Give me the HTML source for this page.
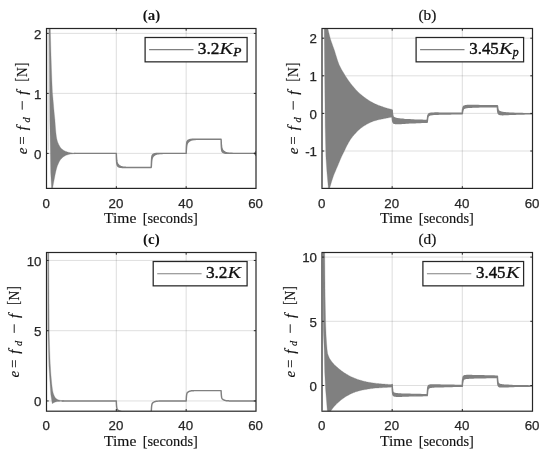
<!DOCTYPE html>
<html><head><meta charset="utf-8"><title>Force error plots</title>
<style>
html,body{margin:0;padding:0;background:#fff;}
svg{display:block;}
.tk{font-family:"Liberation Sans",Arial,sans-serif;font-size:13.3px;fill:#262626;stroke:#262626;stroke-width:0.25px;}
.ttl{font-family:"Liberation Serif","Times New Roman",serif;font-size:15.3px;fill:#111;stroke:#111;stroke-width:0.2px;}
.b{font-weight:bold;font-size:15px;stroke-width:0;}
.lab{font-family:"Liberation Serif","Times New Roman",serif;font-size:15px;fill:#111;stroke:#111;stroke-width:0.15px;}
.subl{font-size:10.5px;}
.br{font-size:17px;}
.leg{font-family:"Liberation Serif","Times New Roman",serif;font-size:17.7px;fill:#111;stroke:#111;stroke-width:0.45px;}
.legs{font-family:"Liberation Serif","Times New Roman",serif;font-size:11.8px;fill:#111;stroke:#111;stroke-width:0.35px;}
.it{font-style:italic;}
.kk{stroke-width:0.15px;}
</style></head><body>
<svg width="550" height="459" viewBox="0 0 550 459">
<rect width="550" height="459" fill="#fff"/>
<clipPath id="clip0"><rect x="46.50" y="28.50" width="209.50" height="159.90"/></clipPath>
<line x1="116.33" y1="28.50" x2="116.33" y2="188.40" stroke="#262626" stroke-opacity="0.14" stroke-width="1.1"/>
<line x1="186.17" y1="28.50" x2="186.17" y2="188.40" stroke="#262626" stroke-opacity="0.14" stroke-width="1.1"/>
<line x1="46.50" y1="153.40" x2="256.00" y2="153.40" stroke="#262626" stroke-opacity="0.15" stroke-width="1"/>
<line x1="46.50" y1="93.40" x2="256.00" y2="93.40" stroke="#262626" stroke-opacity="0.15" stroke-width="1"/>
<line x1="46.50" y1="33.40" x2="256.00" y2="33.40" stroke="#262626" stroke-opacity="0.15" stroke-width="1"/>
<g clip-path="url(#clip0)"><polygon fill="#808080" stroke="#808080" stroke-width="0.30" stroke-linejoin="round" points="49.9,0.0 50.4,32.5 50.9,51.4 51.4,67.5 51.9,81.1 52.4,92.6 52.9,97.9 53.4,103.7 53.9,109.7 54.4,115.0 54.9,119.7 55.4,126.9 55.9,132.7 56.4,136.7 56.8,139.0 57.3,140.9 57.8,142.5 58.3,143.6 58.8,144.7 59.3,145.6 59.8,146.4 60.3,147.2 60.8,147.9 61.3,148.4 61.8,148.9 62.3,149.3 62.8,149.7 63.3,150.1 63.8,150.4 64.3,150.7 64.8,150.9 65.3,151.2 65.8,151.4 66.3,151.6 66.8,151.8 67.3,151.9 67.8,152.1 68.3,152.2 68.8,152.4 69.2,152.5 69.7,152.6 70.2,152.7 70.7,152.8 71.2,152.8 71.7,152.9 72.2,152.9 72.7,153.0 73.2,153.0 73.7,153.1 74.2,153.1 74.7,153.1 75.2,153.2 75.7,153.2 75.7,153.6 75.2,153.6 74.7,153.7 74.2,153.7 73.7,153.7 73.2,153.8 72.7,153.8 72.2,153.9 71.7,153.9 71.2,154.0 70.7,154.1 70.2,154.1 69.6,154.2 69.1,154.3 68.6,154.5 68.1,154.6 67.6,154.8 67.1,154.9 66.6,155.1 66.1,155.3 65.6,155.5 65.1,155.8 64.6,156.1 64.1,156.4 63.6,156.7 63.1,157.1 62.6,157.5 62.1,157.9 61.6,158.4 61.1,158.9 60.6,159.5 60.1,160.2 59.6,161.0 59.1,161.9 58.6,163.0 58.1,164.2 57.5,165.5 57.0,167.0 56.5,168.7 56.0,170.7 55.5,172.9 55.0,175.3 54.5,178.0 54.0,180.5 53.5,183.1 53.0,185.9 52.5,188.8 52.0,192.0 51.8,192.0 51.6,188.4 50.7,172.6 50.1,136.0 49.8,120.0 49.6,93.0 49.4,66.0 49.0,28.5 48.9,0.0"/>
<polygon fill="#808080" stroke="#808080" stroke-width="1.40" stroke-linejoin="round" points="74.4,153.4 76.2,153.4 77.9,153.4 79.7,153.4 81.4,153.4 83.2,153.4 84.9,153.4 86.7,153.4 88.4,153.4 90.1,153.4 91.9,153.4 93.6,153.4 95.4,153.4 97.1,153.4 98.9,153.4 100.6,153.4 102.4,153.4 104.1,153.4 105.9,153.4 107.6,153.4 109.3,153.4 111.1,153.4 112.8,153.4 114.6,153.4 116.3,153.4 116.4,154.7 116.5,157.0 116.6,158.6 116.7,159.8 116.9,160.7 117.0,161.4 117.1,161.9 117.2,162.3 117.3,162.7 117.4,163.0 117.5,163.2 117.6,163.5 117.7,163.7 117.8,163.9 117.9,164.0 118.0,164.2 118.1,164.3 118.2,164.5 118.3,164.6 118.4,164.8 118.5,164.9 118.9,165.2 119.2,165.5 119.6,165.8 119.9,166.0 120.3,166.2 120.6,166.4 121.0,166.6 121.3,166.7 121.7,166.8 122.0,166.9 122.4,167.0 122.7,167.0 123.1,167.1 123.4,167.1 123.8,167.2 124.1,167.2 124.5,167.3 124.8,167.3 125.2,167.3 125.5,167.3 125.9,167.4 126.2,167.4 126.6,167.4 126.9,167.4 128.7,167.5 130.4,167.5 132.1,167.5 133.9,167.5 135.6,167.5 137.4,167.5 139.1,167.5 140.9,167.5 142.6,167.5 144.4,167.5 146.1,167.5 147.9,167.5 149.6,167.5 151.2,167.5 151.4,162.7 151.5,160.6 151.6,159.0 151.7,157.9 151.8,157.1 151.9,156.6 152.0,156.1 152.1,155.8 152.2,155.5 152.3,155.3 152.4,155.2 152.5,155.0 152.6,154.9 152.7,154.8 152.8,154.7 152.9,154.6 153.0,154.5 153.1,154.4 153.2,154.4 153.3,154.3 153.4,154.2 153.8,154.1 154.1,153.9 154.5,153.8 154.8,153.7 155.2,153.6 155.5,153.6 155.9,153.5 156.2,153.5 156.6,153.5 156.9,153.4 157.3,153.4 157.6,153.4 158.0,153.4 158.3,153.4 158.7,153.4 159.0,153.4 159.4,153.4 159.7,153.4 160.1,153.4 160.4,153.4 160.8,153.4 161.1,153.4 161.5,153.4 161.8,153.4 163.6,153.4 165.3,153.4 167.1,153.4 168.8,153.4 170.6,153.4 172.3,153.4 174.0,153.4 175.8,153.4 177.5,153.4 179.3,153.4 181.0,153.4 182.8,153.4 184.5,153.4 186.2,153.4 186.3,148.6 186.4,146.5 186.5,144.9 186.6,143.8 186.7,143.0 186.8,142.5 186.9,142.0 187.0,141.7 187.1,141.4 187.2,141.2 187.3,141.1 187.4,140.9 187.5,140.8 187.6,140.7 187.7,140.6 187.8,140.5 187.9,140.4 188.0,140.3 188.2,140.3 188.3,140.2 188.4,140.1 188.7,140.0 189.1,139.8 189.4,139.7 189.8,139.6 190.1,139.5 190.5,139.5 190.8,139.4 191.2,139.4 191.5,139.4 191.9,139.3 192.2,139.3 192.6,139.3 192.9,139.3 193.3,139.3 193.6,139.3 193.9,139.3 194.3,139.3 194.6,139.3 195.0,139.3 195.3,139.3 195.7,139.3 196.0,139.3 196.4,139.3 196.7,139.3 198.5,139.3 200.2,139.3 202.0,139.3 203.7,139.3 205.5,139.3 207.2,139.3 209.0,139.3 210.7,139.3 212.5,139.3 214.2,139.3 215.9,139.3 217.7,139.3 219.4,139.3 221.1,139.3 221.2,140.6 221.3,142.9 221.4,144.5 221.5,145.7 221.6,146.6 221.7,147.3 221.8,147.8 221.9,148.2 222.0,148.6 222.1,148.9 222.2,149.1 222.3,149.4 222.4,149.6 222.5,149.8 222.7,149.9 222.8,150.1 222.9,150.2 223.0,150.4 223.1,150.5 223.2,150.7 223.3,150.8 223.6,151.1 224.0,151.4 224.3,151.7 224.7,151.9 225.0,152.1 225.4,152.3 225.7,152.5 226.1,152.6 226.4,152.7 226.8,152.8 227.1,152.9 227.5,152.9 227.8,153.0 228.2,153.0 228.5,153.1 228.9,153.1 229.2,153.2 229.6,153.2 229.9,153.2 230.3,153.2 230.6,153.3 231.0,153.3 231.3,153.3 231.7,153.3 233.4,153.4 235.2,153.4 236.9,153.4 238.6,153.4 240.4,153.4 242.1,153.4 243.9,153.4 245.6,153.4 247.4,153.4 249.1,153.4 250.9,153.4 252.6,153.4 254.4,153.4 256.0,151.6 256.0,155.2 254.4,153.4 252.6,153.4 250.9,153.4 249.1,153.4 247.4,153.4 245.6,153.4 243.9,153.4 242.1,153.4 240.4,153.4 238.6,153.4 236.9,153.4 235.2,153.4 233.4,153.4 231.7,153.4 231.3,153.4 231.0,153.4 230.6,153.4 230.3,153.4 229.9,153.4 229.6,153.4 229.2,153.4 228.9,153.4 228.5,153.4 228.2,153.4 227.8,153.4 227.5,153.4 227.1,153.4 226.8,153.4 226.4,153.3 226.1,153.3 225.7,153.3 225.4,153.2 225.0,153.2 224.7,153.1 224.3,153.0 224.0,152.9 223.6,152.7 223.3,152.6 223.2,152.5 223.1,152.4 223.0,152.4 222.9,152.3 222.8,152.2 222.7,152.1 222.5,152.0 222.4,151.9 222.3,151.8 222.2,151.6 222.1,151.5 222.0,151.3 221.9,151.0 221.8,150.7 221.7,150.2 221.6,149.7 221.5,148.9 221.4,147.8 221.3,146.2 221.2,144.1 221.1,139.3 219.4,139.3 217.7,139.3 215.9,139.3 214.2,139.3 212.5,139.3 210.7,139.3 209.0,139.3 207.2,139.3 205.5,139.3 203.7,139.3 202.0,139.3 200.2,139.3 198.5,139.3 196.7,139.4 196.4,139.4 196.0,139.4 195.7,139.4 195.3,139.5 195.0,139.5 194.6,139.5 194.3,139.5 193.9,139.6 193.6,139.6 193.3,139.7 192.9,139.7 192.6,139.8 192.2,139.8 191.9,139.9 191.5,140.0 191.2,140.1 190.8,140.2 190.5,140.4 190.1,140.6 189.8,140.8 189.4,141.0 189.1,141.3 188.7,141.6 188.4,141.9 188.3,142.0 188.2,142.2 188.0,142.3 187.9,142.5 187.8,142.6 187.7,142.8 187.6,142.9 187.5,143.1 187.4,143.3 187.3,143.6 187.2,143.8 187.1,144.1 187.0,144.5 186.9,144.9 186.8,145.4 186.7,146.1 186.6,147.0 186.5,148.2 186.4,149.8 186.3,152.1 186.2,153.4 184.5,153.4 182.8,153.4 181.0,153.4 179.3,153.4 177.5,153.4 175.8,153.4 174.0,153.4 172.3,153.4 170.6,153.4 168.8,153.4 167.1,153.4 165.3,153.4 163.6,153.4 161.8,153.5 161.5,153.5 161.1,153.5 160.8,153.5 160.4,153.6 160.1,153.6 159.7,153.6 159.4,153.6 159.0,153.7 158.7,153.7 158.3,153.8 158.0,153.8 157.6,153.9 157.3,153.9 156.9,154.0 156.6,154.1 156.2,154.2 155.9,154.3 155.5,154.5 155.2,154.7 154.8,154.9 154.5,155.1 154.1,155.4 153.8,155.7 153.4,156.0 153.3,156.1 153.2,156.3 153.1,156.4 153.0,156.6 152.9,156.7 152.8,156.9 152.7,157.0 152.6,157.2 152.5,157.4 152.4,157.7 152.3,157.9 152.2,158.2 152.1,158.6 152.0,159.0 151.9,159.5 151.8,160.2 151.7,161.1 151.6,162.3 151.5,163.9 151.4,166.2 151.2,167.5 149.6,167.5 147.9,167.5 146.1,167.5 144.4,167.5 142.6,167.5 140.9,167.5 139.1,167.5 137.4,167.5 135.6,167.5 133.9,167.5 132.1,167.5 130.4,167.5 128.7,167.5 126.9,167.5 126.6,167.5 126.2,167.5 125.9,167.5 125.5,167.5 125.2,167.5 124.8,167.5 124.5,167.5 124.1,167.5 123.8,167.5 123.4,167.5 123.1,167.5 122.7,167.5 122.4,167.5 122.0,167.5 121.7,167.4 121.3,167.4 121.0,167.4 120.6,167.3 120.3,167.3 119.9,167.2 119.6,167.1 119.2,167.0 118.9,166.8 118.5,166.7 118.4,166.6 118.3,166.5 118.2,166.5 118.1,166.4 118.0,166.3 117.9,166.2 117.8,166.1 117.7,166.0 117.6,165.9 117.5,165.7 117.4,165.6 117.3,165.4 117.2,165.1 117.1,164.8 117.0,164.3 116.9,163.8 116.7,163.0 116.6,161.9 116.5,160.3 116.4,158.2 116.3,153.4 114.6,153.4 112.8,153.4 111.1,153.4 109.3,153.4 107.6,153.4 105.9,153.4 104.1,153.4 102.4,153.4 100.6,153.4 98.9,153.4 97.1,153.4 95.4,153.4 93.6,153.4 91.9,153.4 90.1,153.4 88.4,153.4 86.7,153.4 84.9,153.4 83.2,153.4 81.4,153.4 79.7,153.4 77.9,153.4 76.2,153.4 74.4,153.4"/>
<line x1="48.1" y1="28" x2="48.3" y2="150" stroke="#808080" stroke-width="0.7" opacity="0.45"/></g>
<rect x="46.50" y="28.50" width="209.50" height="159.90" fill="none" stroke="#262626" stroke-width="1.2"/>
<text class="tk" x="46.10" y="207.50" text-anchor="middle">0</text>
<line x1="116.33" y1="188.40" x2="116.33" y2="186.20" stroke="#262626" stroke-width="1"/>
<line x1="116.33" y1="28.50" x2="116.33" y2="30.70" stroke="#262626" stroke-width="1"/>
<text class="tk" x="115.93" y="207.50" text-anchor="middle">20</text>
<line x1="186.17" y1="188.40" x2="186.17" y2="186.20" stroke="#262626" stroke-width="1"/>
<line x1="186.17" y1="28.50" x2="186.17" y2="30.70" stroke="#262626" stroke-width="1"/>
<text class="tk" x="185.77" y="207.50" text-anchor="middle">40</text>
<text class="tk" x="255.60" y="207.50" text-anchor="middle">60</text>
<line x1="46.50" y1="153.40" x2="48.70" y2="153.40" stroke="#262626" stroke-width="1"/>
<line x1="256.00" y1="153.40" x2="253.80" y2="153.40" stroke="#262626" stroke-width="1"/>
<text class="tk" x="41.50" y="158.60" text-anchor="end">0</text>
<line x1="46.50" y1="93.40" x2="48.70" y2="93.40" stroke="#262626" stroke-width="1"/>
<line x1="256.00" y1="93.40" x2="253.80" y2="93.40" stroke="#262626" stroke-width="1"/>
<text class="tk" x="41.50" y="98.60" text-anchor="end">1</text>
<line x1="46.50" y1="33.40" x2="48.70" y2="33.40" stroke="#262626" stroke-width="1"/>
<line x1="256.00" y1="33.40" x2="253.80" y2="33.40" stroke="#262626" stroke-width="1"/>
<text class="tk" x="41.50" y="38.60" text-anchor="end">2</text>
<text class="ttl b" x="151.45" y="20.10" text-anchor="middle">(a)</text>
<text class="lab" x="103.95" y="223.30" textLength="32.4" lengthAdjust="spacingAndGlyphs">Time</text>
<text class="lab" x="142.65" y="223.30" textLength="55.2" lengthAdjust="spacingAndGlyphs">[seconds]</text>
<g transform="translate(26.90,109.15) rotate(-90)"><text class="lab it" x="-45.00" y="0">e</text><text class="lab" x="-35.50" y="0">=</text><text class="lab it" x="-21.20" y="0">f</text><text class="lab it subl" x="-13.40" y="2.6">d</text><text class="lab" x="-1.30" y="0" textLength="10" lengthAdjust="spacingAndGlyphs">−</text><text class="lab it" x="14.50" y="0">f</text><text class="lab br" x="27.70" y="0.2" textLength="4" lengthAdjust="spacingAndGlyphs">[</text><text class="lab" x="32.10" y="0" textLength="9.7" lengthAdjust="spacingAndGlyphs">N</text><text class="lab br" x="42.40" y="0.2" textLength="4" lengthAdjust="spacingAndGlyphs">]</text></g>
<rect x="145.10" y="37.50" width="102.00" height="24.35" fill="#fff" stroke="#262626" stroke-width="1.25"/>
<line x1="149.10" y1="49.67" x2="193.50" y2="49.67" stroke="#808080" stroke-width="1.1"/>
<text class="leg" x="197.80" y="53.50" textLength="21.6" lengthAdjust="spacingAndGlyphs">3.2</text>
<text class="leg it kk" x="219.40" y="53.50" textLength="13.6" lengthAdjust="spacingAndGlyphs">K</text>
<text class="legs it" x="233.20" y="55.70" textLength="8.2" lengthAdjust="spacingAndGlyphs">P</text>
<clipPath id="clip1"><rect x="322.00" y="28.50" width="210.50" height="159.90"/></clipPath>
<line x1="392.17" y1="28.50" x2="392.17" y2="188.40" stroke="#262626" stroke-opacity="0.14" stroke-width="1.1"/>
<line x1="462.33" y1="28.50" x2="462.33" y2="188.40" stroke="#262626" stroke-opacity="0.14" stroke-width="1.1"/>
<line x1="322.00" y1="151.00" x2="532.50" y2="151.00" stroke="#262626" stroke-opacity="0.15" stroke-width="1"/>
<line x1="322.00" y1="113.40" x2="532.50" y2="113.40" stroke="#262626" stroke-opacity="0.15" stroke-width="1"/>
<line x1="322.00" y1="75.80" x2="532.50" y2="75.80" stroke="#262626" stroke-opacity="0.15" stroke-width="1"/>
<line x1="322.00" y1="38.20" x2="532.50" y2="38.20" stroke="#262626" stroke-opacity="0.15" stroke-width="1"/>
<g clip-path="url(#clip1)"><polygon fill="#808080" stroke="#808080" stroke-width="0.30" stroke-linejoin="round" points="326.5,-0.0 327.0,11.9 327.5,22.6 328.0,29.3 328.5,31.4 329.0,33.5 329.5,35.5 330.0,37.5 330.5,39.2 331.0,40.7 331.5,42.2 332.0,43.6 332.5,45.0 333.0,46.4 333.5,47.8 334.0,49.2 334.5,50.5 335.0,52.2 335.5,53.9 336.0,55.5 336.5,57.1 337.0,58.7 337.5,60.2 338.0,61.7 338.5,63.1 339.0,64.5 339.5,65.5 340.0,66.5 340.5,67.5 341.0,68.4 341.5,69.4 342.0,70.3 342.5,71.2 343.1,72.0 343.6,72.9 344.1,73.7 344.6,74.6 345.1,75.4 345.6,76.2 346.1,77.0 346.6,77.7 347.1,78.5 347.6,79.2 348.1,80.0 348.6,80.7 349.1,81.4 349.6,82.1 350.1,82.7 350.6,83.4 351.1,84.0 351.6,84.7 352.1,85.3 352.6,85.9 353.1,86.5 353.6,87.1 354.1,87.7 354.6,88.3 355.1,88.8 355.6,89.4 356.1,89.9 356.6,90.4 357.1,91.0 357.6,91.5 358.1,91.9 358.6,92.4 359.1,92.9 359.6,93.4 360.1,93.8 360.6,94.3 361.1,94.7 361.6,95.1 362.1,95.5 362.6,95.9 363.1,96.3 363.6,96.7 364.1,97.1 364.6,97.5 365.1,97.8 365.6,98.2 366.1,98.5 366.6,98.9 367.1,99.2 367.6,99.6 368.1,99.9 368.6,100.2 369.1,100.6 369.6,100.9 370.1,101.2 370.6,101.5 371.1,101.8 371.6,102.1 372.1,102.3 372.6,102.6 373.1,102.9 373.6,103.1 374.1,103.4 374.6,103.6 375.1,103.9 375.6,104.1 376.2,104.3 376.7,104.5 377.2,104.7 377.7,105.0 378.2,105.2 378.7,105.4 379.2,105.6 379.7,105.7 380.2,105.9 380.7,106.1 381.2,106.3 381.7,106.5 382.2,106.6 382.7,106.8 383.2,107.0 383.7,107.2 384.2,107.3 384.7,107.5 385.2,107.7 385.7,107.8 386.2,108.0 386.7,108.1 387.2,108.3 387.7,108.4 388.2,108.5 388.7,108.7 389.2,108.8 389.7,108.9 390.2,109.0 390.7,109.2 391.2,109.3 391.7,109.4 392.2,109.5 392.2,117.1 391.7,117.2 391.2,117.3 390.7,117.3 390.2,117.4 389.7,117.5 389.2,117.6 388.7,117.7 388.2,117.8 387.7,117.9 387.2,118.0 386.7,118.1 386.2,118.2 385.7,118.3 385.2,118.4 384.7,118.5 384.2,118.6 383.7,118.7 383.2,118.8 382.7,118.9 382.2,119.0 381.7,119.1 381.2,119.2 380.7,119.3 380.2,119.4 379.7,119.5 379.2,119.6 378.7,119.7 378.2,119.8 377.7,119.9 377.2,120.1 376.7,120.2 376.2,120.4 375.7,120.5 375.2,120.7 374.7,120.8 374.2,121.0 373.7,121.1 373.2,121.3 372.7,121.5 372.2,121.7 371.7,121.9 371.2,122.1 370.7,122.3 370.2,122.6 369.7,122.8 369.2,123.0 368.7,123.3 368.2,123.5 367.7,123.8 367.2,124.1 366.7,124.3 366.2,124.6 365.7,124.9 365.2,125.2 364.7,125.5 364.2,125.8 363.7,126.1 363.2,126.5 362.7,126.8 362.2,127.2 361.7,127.5 361.2,127.9 360.7,128.3 360.1,128.8 359.6,129.2 359.1,129.7 358.6,130.1 358.1,130.6 357.6,131.1 357.1,131.6 356.6,132.1 356.1,132.7 355.6,133.2 355.1,133.7 354.6,134.3 354.1,134.8 353.6,135.4 353.1,136.0 352.6,136.6 352.1,137.3 351.6,137.9 351.1,138.6 350.6,139.3 350.1,140.1 349.6,140.9 349.1,141.7 348.6,142.6 348.1,143.5 347.6,144.4 347.1,145.3 346.6,146.3 346.1,147.3 345.6,148.3 345.1,149.4 344.6,150.5 344.1,151.5 343.6,152.5 343.1,153.5 342.6,154.5 342.1,155.5 341.6,156.6 341.1,157.7 340.6,158.8 340.1,160.0 339.6,161.2 339.1,162.4 338.6,163.6 338.1,164.9 337.6,166.1 337.1,167.2 336.6,168.3 336.1,169.5 335.6,170.7 335.1,171.9 334.6,173.1 334.1,174.3 333.6,175.6 333.1,177.0 332.6,178.5 332.1,180.0 331.6,181.6 331.1,183.3 330.6,184.9 330.1,186.6 329.6,188.4 329.1,190.2 328.6,192.0 328.6,192.0 328.4,188.4 326.9,171.8 325.9,156.5 325.2,126.0 324.2,28.4 324.0,0.0"/>
<polygon fill="#808080" stroke="#808080" stroke-width="1.40" stroke-linejoin="round" points="392.2,110.4 392.3,111.8 392.4,112.9 392.5,113.8 392.6,114.5 392.7,115.1 392.8,115.6 392.9,115.9 393.0,116.2 393.1,116.5 393.2,116.7 393.3,116.9 393.4,117.0 393.5,117.1 393.6,117.3 393.7,117.4 393.9,117.4 394.0,117.5 394.1,117.6 394.2,117.6 394.3,117.7 394.6,117.9 395.0,118.0 395.3,118.1 395.7,118.3 396.0,118.4 396.4,118.4 396.7,118.5 397.1,118.6 397.4,118.7 397.8,118.7 398.1,118.8 398.5,118.9 398.8,118.9 399.2,118.9 399.5,119.0 399.9,119.0 400.2,119.1 400.6,119.1 400.9,119.2 401.3,119.2 401.6,119.2 402.0,119.3 402.3,119.3 402.7,119.3 404.4,119.5 406.2,119.6 408.0,119.7 409.7,119.8 411.5,119.9 413.2,120.0 415.0,120.1 416.7,120.1 418.5,120.2 420.2,120.3 422.0,120.3 423.7,120.4 425.5,120.5 427.2,120.5 427.4,119.2 427.5,118.1 427.6,117.3 427.7,116.6 427.8,116.0 427.9,115.6 428.0,115.2 428.1,115.0 428.2,114.7 428.3,114.5 428.4,114.4 428.5,114.3 428.6,114.1 428.7,114.1 428.8,114.0 428.9,113.9 429.0,113.8 429.1,113.8 429.2,113.7 429.4,113.7 429.5,113.6 429.8,113.5 430.2,113.4 430.5,113.4 430.9,113.3 431.2,113.3 431.6,113.2 431.9,113.2 432.3,113.1 432.6,113.1 433.0,113.1 433.3,113.1 433.7,113.1 434.0,113.1 434.4,113.1 434.7,113.0 435.1,113.0 435.4,113.0 435.8,113.0 436.1,113.0 436.5,113.0 436.8,113.0 437.2,113.0 437.5,113.0 437.9,113.0 439.6,113.1 441.4,113.1 443.1,113.1 444.9,113.1 446.6,113.2 448.4,113.2 450.2,113.2 451.9,113.2 453.7,113.3 455.4,113.3 457.2,113.3 458.9,113.3 460.7,113.3 462.3,113.4 462.4,111.2 462.5,110.2 462.6,109.4 462.8,108.7 462.9,108.2 463.0,107.8 463.1,107.5 463.2,107.2 463.3,107.0 463.4,106.8 463.5,106.7 463.6,106.5 463.7,106.4 463.8,106.3 463.9,106.3 464.0,106.2 464.1,106.1 464.2,106.1 464.3,106.1 464.4,106.0 464.5,106.0 464.9,105.9 465.2,105.8 465.6,105.7 465.9,105.7 466.3,105.6 466.6,105.6 467.0,105.5 467.3,105.5 467.7,105.5 468.0,105.5 468.4,105.5 468.8,105.5 469.1,105.4 469.5,105.4 469.8,105.4 470.2,105.4 470.5,105.4 470.9,105.4 471.2,105.4 471.6,105.4 471.9,105.4 472.3,105.4 472.6,105.4 473.0,105.4 474.7,105.5 476.5,105.5 478.2,105.5 480.0,105.6 481.7,105.6 483.5,105.6 485.2,105.7 487.0,105.7 488.7,105.7 490.5,105.8 492.3,105.8 494.0,105.8 495.8,105.8 497.4,105.8 497.5,105.9 497.6,106.9 497.7,107.8 497.8,108.5 497.9,109.0 498.0,109.4 498.1,109.8 498.3,110.1 498.4,110.3 498.5,110.5 498.6,110.7 498.7,110.8 498.8,111.0 498.9,111.1 499.0,111.2 499.1,111.2 499.2,111.3 499.3,111.4 499.4,111.5 499.5,111.5 499.6,111.6 500.0,111.7 500.3,111.9 500.7,112.0 501.0,112.1 501.4,112.2 501.7,112.3 502.1,112.3 502.4,112.4 502.8,112.5 503.1,112.5 503.5,112.6 503.8,112.6 504.2,112.7 504.5,112.7 504.9,112.8 505.2,112.8 505.6,112.8 505.9,112.9 506.3,112.9 506.6,112.9 507.0,113.0 507.3,113.0 507.7,113.0 508.0,113.0 509.8,113.1 511.6,113.2 513.3,113.3 515.1,113.4 516.8,113.4 518.6,113.5 520.3,113.5 522.1,113.5 523.8,113.6 525.6,113.6 527.3,113.6 529.1,113.6 530.8,113.7 532.5,113.7 532.5,113.9 530.8,113.9 529.1,113.9 527.3,113.9 525.6,113.9 523.8,114.0 522.1,114.0 520.3,114.0 518.6,114.1 516.8,114.1 515.1,114.2 513.3,114.2 511.6,114.3 509.8,114.4 508.0,114.5 507.7,114.5 507.3,114.5 507.0,114.5 506.6,114.5 506.3,114.5 505.9,114.6 505.6,114.6 505.2,114.6 504.9,114.6 504.5,114.6 504.2,114.6 503.8,114.6 503.5,114.6 503.1,114.7 502.8,114.7 502.4,114.7 502.1,114.7 501.7,114.6 501.4,114.6 501.0,114.6 500.7,114.6 500.3,114.5 500.0,114.5 499.6,114.4 499.5,114.4 499.4,114.3 499.3,114.3 499.2,114.2 499.1,114.2 499.0,114.1 498.9,114.1 498.8,114.0 498.7,113.9 498.6,113.8 498.5,113.6 498.4,113.5 498.3,113.3 498.1,113.0 498.0,112.7 497.9,112.2 497.8,111.7 497.7,111.1 497.6,110.3 497.5,109.2 497.4,106.7 495.8,106.7 494.0,106.7 492.3,106.7 490.5,106.8 488.7,106.8 487.0,106.8 485.2,106.8 483.5,106.9 481.7,106.9 480.0,106.9 478.2,107.0 476.5,107.0 474.7,107.1 473.0,107.1 472.6,107.1 472.3,107.1 471.9,107.2 471.6,107.2 471.2,107.2 470.9,107.2 470.5,107.2 470.2,107.2 469.8,107.3 469.5,107.3 469.1,107.3 468.8,107.3 468.4,107.4 468.0,107.4 467.7,107.4 467.3,107.5 467.0,107.5 466.6,107.6 466.3,107.6 465.9,107.7 465.6,107.8 465.2,107.9 464.9,108.0 464.5,108.1 464.4,108.1 464.3,108.2 464.2,108.2 464.1,108.3 464.0,108.4 463.9,108.4 463.8,108.5 463.7,108.6 463.6,108.7 463.5,108.8 463.4,109.0 463.3,109.2 463.2,109.4 463.1,109.7 463.0,110.0 462.9,110.4 462.8,111.0 462.6,111.6 462.5,112.4 462.4,113.5 462.3,113.8 460.7,113.8 458.9,113.9 457.2,113.9 455.4,113.9 453.7,113.9 451.9,113.9 450.2,114.0 448.4,114.0 446.6,114.0 444.9,114.0 443.1,114.1 441.4,114.1 439.6,114.1 437.9,114.2 437.5,114.2 437.2,114.2 436.8,114.2 436.5,114.2 436.1,114.2 435.8,114.3 435.4,114.3 435.1,114.3 434.7,114.3 434.4,114.3 434.0,114.4 433.7,114.4 433.3,114.4 433.0,114.5 432.6,114.5 432.3,114.5 431.9,114.6 431.6,114.6 431.2,114.7 430.9,114.8 430.5,114.8 430.2,114.9 429.8,115.0 429.5,115.2 429.4,115.2 429.2,115.3 429.1,115.3 429.0,115.4 428.9,115.5 428.8,115.5 428.7,115.6 428.6,115.7 428.5,115.8 428.4,116.0 428.3,116.1 428.2,116.3 428.1,116.6 428.0,116.9 427.9,117.2 427.8,117.7 427.7,118.2 427.6,118.9 427.5,119.8 427.4,120.9 427.2,122.2 425.5,122.3 423.7,122.3 422.0,122.4 420.2,122.5 418.5,122.5 416.7,122.6 415.0,122.7 413.2,122.8 411.5,122.8 409.7,122.9 408.0,123.0 406.2,123.1 404.4,123.3 402.7,123.4 402.3,123.4 402.0,123.4 401.6,123.4 401.3,123.5 400.9,123.5 400.6,123.5 400.2,123.5 399.9,123.5 399.5,123.5 399.2,123.6 398.8,123.6 398.5,123.6 398.1,123.6 397.8,123.6 397.4,123.6 397.1,123.6 396.7,123.6 396.4,123.6 396.0,123.6 395.7,123.5 395.3,123.5 395.0,123.4 394.6,123.4 394.3,123.3 394.2,123.2 394.1,123.2 394.0,123.1 393.9,123.1 393.7,123.0 393.6,122.9 393.5,122.9 393.4,122.7 393.3,122.6 393.2,122.5 393.1,122.3 393.0,122.1 392.9,121.8 392.8,121.4 392.7,121.0 392.6,120.5 392.5,119.8 392.4,118.9 392.3,117.8 392.2,116.4"/>
</g>
<rect x="322.00" y="28.50" width="210.50" height="159.90" fill="none" stroke="#262626" stroke-width="1.2"/>
<line x1="322.10" y1="29.50" x2="322.10" y2="187.90" stroke="#7c7c7c" stroke-width="1.4"/>
<text class="tk" x="321.60" y="207.50" text-anchor="middle">0</text>
<line x1="392.17" y1="188.40" x2="392.17" y2="186.20" stroke="#262626" stroke-width="1"/>
<line x1="392.17" y1="28.50" x2="392.17" y2="30.70" stroke="#262626" stroke-width="1"/>
<text class="tk" x="391.77" y="207.50" text-anchor="middle">20</text>
<line x1="462.33" y1="188.40" x2="462.33" y2="186.20" stroke="#262626" stroke-width="1"/>
<line x1="462.33" y1="28.50" x2="462.33" y2="30.70" stroke="#262626" stroke-width="1"/>
<text class="tk" x="461.93" y="207.50" text-anchor="middle">40</text>
<text class="tk" x="532.10" y="207.50" text-anchor="middle">60</text>
<line x1="322.00" y1="151.00" x2="324.20" y2="151.00" stroke="#262626" stroke-width="1"/>
<line x1="532.50" y1="151.00" x2="530.30" y2="151.00" stroke="#262626" stroke-width="1"/>
<text class="tk" x="317.00" y="156.20" text-anchor="end">-1</text>
<line x1="322.00" y1="113.40" x2="324.20" y2="113.40" stroke="#262626" stroke-width="1"/>
<line x1="532.50" y1="113.40" x2="530.30" y2="113.40" stroke="#262626" stroke-width="1"/>
<text class="tk" x="317.00" y="118.60" text-anchor="end">0</text>
<line x1="322.00" y1="75.80" x2="324.20" y2="75.80" stroke="#262626" stroke-width="1"/>
<line x1="532.50" y1="75.80" x2="530.30" y2="75.80" stroke="#262626" stroke-width="1"/>
<text class="tk" x="317.00" y="81.00" text-anchor="end">1</text>
<line x1="322.00" y1="38.20" x2="324.20" y2="38.20" stroke="#262626" stroke-width="1"/>
<line x1="532.50" y1="38.20" x2="530.30" y2="38.20" stroke="#262626" stroke-width="1"/>
<text class="tk" x="317.00" y="43.40" text-anchor="end">2</text>
<text class="ttl" x="427.45" y="20.10" text-anchor="middle">(b)</text>
<text class="lab" x="379.95" y="223.30" textLength="32.4" lengthAdjust="spacingAndGlyphs">Time</text>
<text class="lab" x="418.65" y="223.30" textLength="55.2" lengthAdjust="spacingAndGlyphs">[seconds]</text>
<g transform="translate(297.90,109.15) rotate(-90)"><text class="lab it" x="-45.00" y="0">e</text><text class="lab" x="-35.50" y="0">=</text><text class="lab it" x="-21.20" y="0">f</text><text class="lab it subl" x="-13.40" y="2.6">d</text><text class="lab" x="-1.30" y="0" textLength="10" lengthAdjust="spacingAndGlyphs">−</text><text class="lab it" x="14.50" y="0">f</text><text class="lab br" x="27.70" y="0.2" textLength="4" lengthAdjust="spacingAndGlyphs">[</text><text class="lab" x="32.10" y="0" textLength="9.7" lengthAdjust="spacingAndGlyphs">N</text><text class="lab br" x="42.40" y="0.2" textLength="4" lengthAdjust="spacingAndGlyphs">]</text></g>
<rect x="416.10" y="37.50" width="107.50" height="24.35" fill="#fff" stroke="#262626" stroke-width="1.25"/>
<line x1="420.10" y1="49.67" x2="464.50" y2="49.67" stroke="#808080" stroke-width="1.1"/>
<text class="leg" x="469.30" y="53.50" textLength="29.4" lengthAdjust="spacingAndGlyphs">3.45</text>
<text class="leg it kk" x="499.10" y="53.50" textLength="13.6" lengthAdjust="spacingAndGlyphs">K</text>
<text class="legs it" x="512.70" y="56.10">p</text>
<clipPath id="clip2"><rect x="46.50" y="252.50" width="209.50" height="158.70"/></clipPath>
<line x1="116.33" y1="252.50" x2="116.33" y2="411.20" stroke="#262626" stroke-opacity="0.14" stroke-width="1.1"/>
<line x1="186.17" y1="252.50" x2="186.17" y2="411.20" stroke="#262626" stroke-opacity="0.14" stroke-width="1.1"/>
<line x1="46.50" y1="400.95" x2="256.00" y2="400.95" stroke="#262626" stroke-opacity="0.15" stroke-width="1"/>
<line x1="46.50" y1="330.70" x2="256.00" y2="330.70" stroke="#262626" stroke-opacity="0.15" stroke-width="1"/>
<line x1="46.50" y1="260.45" x2="256.00" y2="260.45" stroke="#262626" stroke-opacity="0.15" stroke-width="1"/>
<g clip-path="url(#clip2)"><polygon fill="#808080" stroke="#808080" stroke-width="0.30" stroke-linejoin="round" points="48.7,240.0 49.2,333.8 49.7,350.8 50.2,363.4 50.7,371.6 51.2,377.8 51.7,383.3 52.2,387.5 52.6,390.4 53.1,392.7 53.6,394.3 54.1,395.6 54.6,396.6 55.1,397.4 55.6,398.0 56.1,398.5 56.6,398.9 57.1,399.3 57.6,399.5 58.1,399.7 58.6,399.9 59.1,400.0 59.6,400.2 60.1,400.3 60.5,400.4 61.0,400.4 61.5,400.5 62.0,400.6 62.5,400.7 63.0,400.7 63.5,400.8 64.0,400.8 64.0,401.1 63.5,401.1 63.0,401.1 62.5,401.2 62.0,401.2 61.5,401.2 61.0,401.3 60.6,401.3 60.1,401.3 59.6,401.4 59.1,401.4 58.6,401.4 58.1,401.5 57.6,401.5 57.1,401.6 56.6,401.7 56.1,401.8 55.6,402.0 55.2,402.1 54.7,402.3 54.2,402.6 53.7,402.8 53.2,403.1 52.7,403.4 52.2,403.6 52.2,403.6 50.8,394.4 50.0,382.4 48.9,366.0 47.9,330.0 47.7,252.0 47.6,240.0"/>
<polygon fill="#808080" stroke="#808080" stroke-width="1.45" stroke-linejoin="round" points="62.2,400.9 64.0,400.9 65.7,400.9 67.5,400.9 69.2,400.9 70.9,400.9 72.7,400.9 74.4,400.9 76.2,400.9 77.9,400.9 79.7,400.9 81.4,400.9 83.2,400.9 84.9,400.9 86.7,400.9 88.4,400.9 90.1,400.9 91.9,400.9 93.6,400.9 95.4,400.9 97.1,400.9 98.9,400.9 100.6,400.9 102.4,400.9 104.1,400.9 105.9,400.9 107.6,400.9 109.3,400.9 111.1,400.9 112.8,400.9 114.6,400.9 116.3,400.9 116.4,403.3 116.5,405.0 116.6,406.3 116.7,407.2 116.9,407.8 117.0,408.3 117.1,408.7 117.2,409.0 117.3,409.2 117.4,409.4 117.5,409.6 117.6,409.7 117.7,409.8 117.8,410.0 117.9,410.1 118.0,410.2 118.1,410.3 118.2,410.3 118.3,410.4 118.4,410.5 118.5,410.6 118.9,410.8 119.2,410.9 119.6,411.1 119.9,411.2 120.3,411.3 120.6,411.4 121.0,411.5 121.3,411.6 121.7,411.6 122.0,411.7 122.4,411.7 122.7,411.7 123.1,411.8 123.4,411.8 123.8,411.8 124.1,411.8 124.5,411.8 124.8,411.8 125.2,411.9 125.5,411.9 125.9,411.9 126.2,411.9 126.6,411.9 126.9,411.9 128.7,411.9 130.4,411.9 132.1,411.9 133.9,411.9 135.6,411.9 137.4,411.9 139.1,411.9 140.9,411.9 142.6,411.9 144.4,411.9 146.1,411.9 147.9,411.9 149.6,411.9 151.2,411.9 151.4,409.6 151.5,407.8 151.6,406.6 151.7,405.7 151.8,405.0 151.9,404.6 152.0,404.2 152.1,403.9 152.2,403.6 152.3,403.4 152.4,403.3 152.5,403.1 152.6,403.0 152.7,402.9 152.8,402.8 152.9,402.7 153.0,402.6 153.1,402.5 153.2,402.4 153.3,402.4 153.4,402.3 153.8,402.1 154.1,401.9 154.5,401.8 154.8,401.6 155.2,401.5 155.5,401.4 155.9,401.4 156.2,401.3 156.6,401.2 156.9,401.2 157.3,401.2 157.6,401.1 158.0,401.1 158.3,401.1 158.7,401.1 159.0,401.0 159.4,401.0 159.7,401.0 160.1,401.0 160.4,401.0 160.8,401.0 161.1,401.0 161.5,401.0 161.8,401.0 163.6,401.0 165.3,401.0 167.1,401.0 168.8,401.0 170.6,401.0 172.3,401.0 174.0,401.0 175.8,401.0 177.5,401.0 179.3,401.0 181.0,401.0 182.8,401.0 184.5,401.0 186.2,401.0 186.3,398.7 186.4,397.1 186.5,395.9 186.6,395.1 186.7,394.4 186.8,394.0 186.9,393.6 187.0,393.3 187.1,393.1 187.2,392.9 187.3,392.8 187.4,392.6 187.5,392.5 187.6,392.4 187.7,392.3 187.8,392.2 187.9,392.1 188.0,392.0 188.2,392.0 188.3,391.9 188.4,391.8 188.7,391.6 189.1,391.5 189.4,391.3 189.8,391.2 190.1,391.1 190.5,391.0 190.8,391.0 191.2,390.9 191.5,390.8 191.9,390.8 192.2,390.8 192.6,390.7 192.9,390.7 193.3,390.7 193.6,390.7 193.9,390.6 194.3,390.6 194.6,390.6 195.0,390.6 195.3,390.6 195.7,390.6 196.0,390.6 196.4,390.6 196.7,390.6 198.5,390.6 200.2,390.6 202.0,390.6 203.7,390.6 205.5,390.6 207.2,390.6 209.0,390.6 210.7,390.6 212.5,390.6 214.2,390.6 215.9,390.6 217.7,390.6 219.4,390.6 221.1,390.6 221.2,392.8 221.3,394.4 221.4,395.6 221.5,396.4 221.6,397.1 221.7,397.5 221.8,397.9 221.9,398.2 222.0,398.4 222.1,398.6 222.2,398.7 222.3,398.9 222.4,399.0 222.5,399.1 222.7,399.2 222.8,399.3 222.9,399.4 223.0,399.5 223.1,399.5 223.2,399.6 223.3,399.7 223.6,399.9 224.0,400.0 224.3,400.2 224.7,400.3 225.0,400.4 225.4,400.5 225.7,400.6 226.1,400.6 226.4,400.7 226.8,400.7 227.1,400.7 227.5,400.8 227.8,400.8 228.2,400.8 228.5,400.8 228.9,400.9 229.2,400.9 229.6,400.9 229.9,400.9 230.3,400.9 230.6,400.9 231.0,400.9 231.3,400.9 231.7,400.9 233.4,400.9 235.2,400.9 236.9,400.9 238.6,400.9 240.4,400.9 242.1,400.9 243.9,400.9 245.6,400.9 247.4,400.9 249.1,400.9 250.9,400.9 252.6,400.9 254.4,400.9 256.0,400.9 256.0,400.9 254.4,400.9 252.6,400.9 250.9,400.9 249.1,400.9 247.4,400.9 245.6,400.9 243.9,400.9 242.1,400.9 240.4,400.9 238.6,400.9 236.9,400.9 235.2,400.9 233.4,400.9 231.7,400.9 231.3,400.9 231.0,400.9 230.6,400.9 230.3,400.9 229.9,400.9 229.6,400.9 229.2,400.9 228.9,400.9 228.5,400.8 228.2,400.8 227.8,400.8 227.5,400.8 227.1,400.7 226.8,400.7 226.4,400.7 226.1,400.6 225.7,400.6 225.4,400.5 225.0,400.4 224.7,400.3 224.3,400.2 224.0,400.0 223.6,399.9 223.3,399.7 223.2,399.6 223.1,399.5 223.0,399.5 222.9,399.4 222.8,399.3 222.7,399.2 222.5,399.1 222.4,399.0 222.3,398.9 222.2,398.7 222.1,398.6 222.0,398.4 221.9,398.2 221.8,397.9 221.7,397.5 221.6,397.1 221.5,396.4 221.4,395.6 221.3,394.4 221.2,392.8 221.1,390.6 219.4,390.6 217.7,390.6 215.9,390.6 214.2,390.6 212.5,390.6 210.7,390.6 209.0,390.6 207.2,390.6 205.5,390.6 203.7,390.6 202.0,390.6 200.2,390.6 198.5,390.6 196.7,390.6 196.4,390.6 196.0,390.6 195.7,390.6 195.3,390.6 195.0,390.6 194.6,390.6 194.3,390.6 193.9,390.6 193.6,390.7 193.3,390.7 192.9,390.7 192.6,390.7 192.2,390.8 191.9,390.8 191.5,390.8 191.2,390.9 190.8,391.0 190.5,391.0 190.1,391.1 189.8,391.2 189.4,391.3 189.1,391.5 188.7,391.6 188.4,391.8 188.3,391.9 188.2,392.0 188.0,392.0 187.9,392.1 187.8,392.2 187.7,392.3 187.6,392.4 187.5,392.5 187.4,392.6 187.3,392.8 187.2,392.9 187.1,393.1 187.0,393.3 186.9,393.6 186.8,394.0 186.7,394.4 186.6,395.1 186.5,395.9 186.4,397.1 186.3,398.7 186.2,401.0 184.5,401.0 182.8,401.0 181.0,401.0 179.3,401.0 177.5,401.0 175.8,401.0 174.0,401.0 172.3,401.0 170.6,401.0 168.8,401.0 167.1,401.0 165.3,401.0 163.6,401.0 161.8,401.0 161.5,401.0 161.1,401.0 160.8,401.0 160.4,401.0 160.1,401.0 159.7,401.0 159.4,401.0 159.0,401.0 158.7,401.1 158.3,401.1 158.0,401.1 157.6,401.1 157.3,401.2 156.9,401.2 156.6,401.2 156.2,401.3 155.9,401.4 155.5,401.4 155.2,401.5 154.8,401.6 154.5,401.8 154.1,401.9 153.8,402.1 153.4,402.3 153.3,402.4 153.2,402.4 153.1,402.5 153.0,402.6 152.9,402.7 152.8,402.8 152.7,402.9 152.6,403.0 152.5,403.1 152.4,403.3 152.3,403.4 152.2,403.6 152.1,403.9 152.0,404.2 151.9,404.6 151.8,405.0 151.7,405.7 151.6,406.6 151.5,407.8 151.4,409.6 151.2,411.9 149.6,411.9 147.9,411.9 146.1,411.9 144.4,411.9 142.6,411.9 140.9,411.9 139.1,411.9 137.4,411.9 135.6,411.9 133.9,411.9 132.1,411.9 130.4,411.9 128.7,411.9 126.9,411.9 126.6,411.9 126.2,411.9 125.9,411.9 125.5,411.9 125.2,411.9 124.8,411.8 124.5,411.8 124.1,411.8 123.8,411.8 123.4,411.8 123.1,411.8 122.7,411.7 122.4,411.7 122.0,411.7 121.7,411.6 121.3,411.6 121.0,411.5 120.6,411.4 120.3,411.3 119.9,411.2 119.6,411.1 119.2,410.9 118.9,410.8 118.5,410.6 118.4,410.5 118.3,410.4 118.2,410.3 118.1,410.3 118.0,410.2 117.9,410.1 117.8,410.0 117.7,409.8 117.6,409.7 117.5,409.6 117.4,409.4 117.3,409.2 117.2,409.0 117.1,408.7 117.0,408.3 116.9,407.8 116.7,407.2 116.6,406.3 116.5,405.0 116.4,403.3 116.3,400.9 114.6,400.9 112.8,400.9 111.1,400.9 109.3,400.9 107.6,400.9 105.9,400.9 104.1,400.9 102.4,400.9 100.6,400.9 98.9,400.9 97.1,400.9 95.4,400.9 93.6,400.9 91.9,400.9 90.1,400.9 88.4,400.9 86.7,400.9 84.9,400.9 83.2,400.9 81.4,400.9 79.7,400.9 77.9,400.9 76.2,400.9 74.4,400.9 72.7,400.9 70.9,400.9 69.2,400.9 67.5,400.9 65.7,400.9 64.0,400.9 62.2,400.9"/>
</g>
<rect x="46.50" y="252.50" width="209.50" height="158.70" fill="none" stroke="#262626" stroke-width="1.2"/>
<text class="tk" x="46.10" y="430.30" text-anchor="middle">0</text>
<line x1="116.33" y1="411.20" x2="116.33" y2="409.00" stroke="#262626" stroke-width="1"/>
<line x1="116.33" y1="252.50" x2="116.33" y2="254.70" stroke="#262626" stroke-width="1"/>
<text class="tk" x="115.93" y="430.30" text-anchor="middle">20</text>
<line x1="186.17" y1="411.20" x2="186.17" y2="409.00" stroke="#262626" stroke-width="1"/>
<line x1="186.17" y1="252.50" x2="186.17" y2="254.70" stroke="#262626" stroke-width="1"/>
<text class="tk" x="185.77" y="430.30" text-anchor="middle">40</text>
<text class="tk" x="255.60" y="430.30" text-anchor="middle">60</text>
<line x1="46.50" y1="400.95" x2="48.70" y2="400.95" stroke="#262626" stroke-width="1"/>
<line x1="256.00" y1="400.95" x2="253.80" y2="400.95" stroke="#262626" stroke-width="1"/>
<text class="tk" x="41.50" y="406.15" text-anchor="end">0</text>
<line x1="46.50" y1="330.70" x2="48.70" y2="330.70" stroke="#262626" stroke-width="1"/>
<line x1="256.00" y1="330.70" x2="253.80" y2="330.70" stroke="#262626" stroke-width="1"/>
<text class="tk" x="41.50" y="335.90" text-anchor="end">5</text>
<line x1="46.50" y1="260.45" x2="48.70" y2="260.45" stroke="#262626" stroke-width="1"/>
<line x1="256.00" y1="260.45" x2="253.80" y2="260.45" stroke="#262626" stroke-width="1"/>
<text class="tk" x="41.50" y="265.65" text-anchor="end">10</text>
<text class="ttl b" x="151.45" y="244.10" text-anchor="middle">(c)</text>
<text class="lab" x="103.95" y="446.10" textLength="32.4" lengthAdjust="spacingAndGlyphs">Time</text>
<text class="lab" x="142.65" y="446.10" textLength="55.2" lengthAdjust="spacingAndGlyphs">[seconds]</text>
<g transform="translate(18.90,332.55) rotate(-90)"><text class="lab it" x="-45.00" y="0">e</text><text class="lab" x="-35.50" y="0">=</text><text class="lab it" x="-21.20" y="0">f</text><text class="lab it subl" x="-13.40" y="2.6">d</text><text class="lab" x="-1.30" y="0" textLength="10" lengthAdjust="spacingAndGlyphs">−</text><text class="lab it" x="14.50" y="0">f</text><text class="lab br" x="27.70" y="0.2" textLength="4" lengthAdjust="spacingAndGlyphs">[</text><text class="lab" x="32.10" y="0" textLength="9.7" lengthAdjust="spacingAndGlyphs">N</text><text class="lab br" x="42.40" y="0.2" textLength="4" lengthAdjust="spacingAndGlyphs">]</text></g>
<rect x="153.20" y="261.50" width="93.90" height="24.35" fill="#fff" stroke="#262626" stroke-width="1.25"/>
<line x1="157.20" y1="273.68" x2="201.60" y2="273.68" stroke="#808080" stroke-width="1.1"/>
<text class="leg" x="205.90" y="277.50" textLength="21.6" lengthAdjust="spacingAndGlyphs">3.2</text>
<text class="leg it kk" x="227.50" y="277.50" textLength="13.6" lengthAdjust="spacingAndGlyphs">K</text>
<clipPath id="clip3"><rect x="322.00" y="252.50" width="210.50" height="158.70"/></clipPath>
<line x1="392.17" y1="252.50" x2="392.17" y2="411.20" stroke="#262626" stroke-opacity="0.14" stroke-width="1.1"/>
<line x1="462.33" y1="252.50" x2="462.33" y2="411.20" stroke="#262626" stroke-opacity="0.14" stroke-width="1.1"/>
<line x1="322.00" y1="385.50" x2="532.50" y2="385.50" stroke="#262626" stroke-opacity="0.15" stroke-width="1"/>
<line x1="322.00" y1="321.30" x2="532.50" y2="321.30" stroke="#262626" stroke-opacity="0.15" stroke-width="1"/>
<line x1="322.00" y1="257.10" x2="532.50" y2="257.10" stroke="#262626" stroke-opacity="0.15" stroke-width="1"/>
<g clip-path="url(#clip3)"><polygon fill="#808080" stroke="#808080" stroke-width="0.30" stroke-linejoin="round" points="324.6,240.0 325.1,296.0 325.6,321.9 326.1,335.5 326.6,343.4 327.1,349.4 327.6,353.5 328.1,354.9 328.6,356.2 329.1,357.5 329.6,358.6 330.1,359.3 330.6,360.0 331.1,360.7 331.6,361.4 332.1,362.1 332.6,362.7 333.1,363.3 333.6,363.8 334.1,364.4 334.6,364.9 335.1,365.4 335.6,365.8 336.1,366.3 336.6,366.8 337.1,367.2 337.6,367.6 338.1,368.1 338.6,368.5 339.1,368.9 339.6,369.3 340.1,369.7 340.6,370.1 341.1,370.5 341.6,370.9 342.1,371.3 342.6,371.6 343.1,372.0 343.6,372.3 344.1,372.7 344.6,373.0 345.1,373.3 345.6,373.6 346.1,373.9 346.6,374.2 347.1,374.5 347.6,374.8 348.1,375.1 348.6,375.4 349.1,375.7 349.6,375.9 350.1,376.2 350.6,376.4 351.1,376.7 351.6,376.9 352.1,377.1 352.6,377.4 353.1,377.6 353.6,377.8 354.1,378.0 354.6,378.2 355.1,378.4 355.6,378.6 356.1,378.8 356.6,379.0 357.1,379.2 357.6,379.4 358.1,379.5 358.7,379.7 359.2,379.9 359.7,380.0 360.2,380.2 360.7,380.3 361.2,380.5 361.7,380.6 362.2,380.8 362.7,380.9 363.2,381.0 363.7,381.2 364.2,381.3 364.7,381.4 365.2,381.5 365.7,381.6 366.2,381.8 366.7,381.9 367.2,382.0 367.7,382.1 368.2,382.2 368.7,382.3 369.2,382.3 369.7,382.4 370.2,382.5 370.7,382.6 371.2,382.7 371.7,382.8 372.2,382.8 372.7,382.9 373.2,383.0 373.7,383.1 374.2,383.1 374.7,383.2 375.2,383.2 375.7,383.3 376.2,383.4 376.7,383.4 377.2,383.5 377.7,383.5 378.2,383.6 378.7,383.6 379.2,383.7 379.7,383.7 380.2,383.8 380.7,383.8 381.2,383.8 381.7,383.9 382.2,383.9 382.7,384.0 383.2,384.0 383.7,384.1 384.2,384.1 384.7,384.1 385.2,384.2 385.7,384.2 386.2,384.2 386.7,384.3 387.2,384.3 387.7,384.3 388.2,384.4 388.7,384.4 389.2,384.4 389.7,384.5 390.2,384.5 390.7,384.5 391.2,384.5 391.7,384.6 392.2,384.6 392.2,387.1 391.7,387.1 391.2,387.1 390.7,387.2 390.2,387.2 389.7,387.2 389.2,387.3 388.7,387.3 388.2,387.3 387.7,387.3 387.2,387.4 386.7,387.4 386.2,387.4 385.7,387.5 385.2,387.5 384.7,387.5 384.2,387.5 383.7,387.6 383.2,387.6 382.7,387.6 382.2,387.7 381.7,387.7 381.2,387.7 380.7,387.8 380.2,387.8 379.7,387.8 379.2,387.8 378.7,387.9 378.2,387.9 377.7,387.9 377.2,388.0 376.7,388.0 376.3,388.0 375.8,388.0 375.3,388.1 374.8,388.1 374.3,388.2 373.8,388.2 373.3,388.3 372.8,388.4 372.3,388.4 371.8,388.5 371.3,388.6 370.8,388.6 370.3,388.7 369.8,388.8 369.3,388.9 368.8,388.9 368.3,389.0 367.8,389.1 367.3,389.2 366.8,389.3 366.3,389.4 365.8,389.4 365.3,389.5 364.8,389.6 364.3,389.7 363.8,389.8 363.3,389.9 362.8,390.0 362.3,390.1 361.8,390.2 361.3,390.3 360.8,390.4 360.3,390.6 359.8,390.7 359.3,390.8 358.8,391.0 358.3,391.1 357.8,391.2 357.3,391.4 356.8,391.5 356.3,391.7 355.8,391.8 355.3,392.0 354.8,392.2 354.3,392.4 353.8,392.5 353.3,392.7 352.8,392.9 352.3,393.2 351.8,393.4 351.3,393.6 350.8,393.9 350.3,394.1 349.8,394.4 349.3,394.6 348.8,394.9 348.3,395.2 347.8,395.4 347.3,395.7 346.8,396.0 346.3,396.3 345.8,396.6 345.3,396.9 344.8,397.2 344.4,397.6 343.9,397.9 343.4,398.2 342.9,398.6 342.4,399.0 341.9,399.3 341.4,399.7 340.9,400.1 340.4,400.5 339.9,400.9 339.4,401.4 338.9,401.8 338.4,402.2 337.9,402.7 337.4,403.2 336.9,403.6 336.4,404.1 335.9,404.7 335.4,405.2 334.9,405.7 334.4,406.3 333.9,406.8 333.4,407.4 332.9,408.0 332.4,408.7 331.9,409.4 331.4,410.1 330.9,410.9 330.4,411.6 329.9,412.4 329.4,413.2 328.9,414.0 328.9,414.0 327.3,410.4 325.6,389.5 324.7,372.0 324.2,350.0 323.3,330.0 322.8,252.0 322.6,240.0"/>
<polygon fill="#808080" stroke="#808080" stroke-width="1.40" stroke-linejoin="round" points="392.2,384.5 392.3,386.5 392.4,388.0 392.5,389.2 392.6,390.1 392.7,390.7 392.8,391.2 392.9,391.6 393.0,391.9 393.1,392.2 393.2,392.4 393.3,392.5 393.4,392.7 393.5,392.8 393.6,392.9 393.7,393.0 393.9,393.0 394.0,393.1 394.1,393.1 394.2,393.2 394.3,393.2 394.6,393.4 395.0,393.5 395.3,393.5 395.7,393.6 396.0,393.7 396.4,393.7 396.7,393.8 397.1,393.8 397.4,393.8 397.8,393.9 398.1,393.9 398.5,393.9 398.8,393.9 399.2,394.0 399.5,394.0 399.9,394.0 400.2,394.0 400.6,394.0 400.9,394.0 401.3,394.1 401.6,394.1 402.0,394.1 402.3,394.1 402.7,394.1 404.4,394.2 406.2,394.2 408.0,394.3 409.7,394.3 411.5,394.4 413.2,394.4 415.0,394.4 416.7,394.5 418.5,394.5 420.2,394.5 422.0,394.6 423.7,394.6 425.5,394.6 427.2,394.7 427.4,391.9 427.5,390.4 427.6,389.2 427.7,388.3 427.8,387.7 427.9,387.2 428.0,386.8 428.1,386.5 428.2,386.2 428.3,386.0 428.4,385.9 428.5,385.8 428.6,385.7 428.7,385.6 428.8,385.5 428.9,385.4 429.0,385.4 429.1,385.3 429.2,385.3 429.4,385.3 429.5,385.2 429.8,385.1 430.2,385.1 430.5,385.0 430.9,385.0 431.2,384.9 431.6,384.9 431.9,384.9 432.3,384.9 432.6,384.9 433.0,384.9 433.3,384.9 433.7,384.9 434.0,384.9 434.4,384.9 434.7,384.9 435.1,384.9 435.4,384.9 435.8,384.9 436.1,384.9 436.5,384.9 436.8,384.9 437.2,385.0 437.5,385.0 437.9,385.0 439.6,385.0 441.4,385.1 443.1,385.1 444.9,385.2 446.6,385.2 448.4,385.2 450.2,385.3 451.9,385.3 453.7,385.3 455.4,385.4 457.2,385.4 458.9,385.4 460.7,385.4 462.3,385.5 462.4,382.4 462.5,380.9 462.6,379.8 462.8,378.9 462.9,378.2 463.0,377.7 463.1,377.4 463.2,377.1 463.3,376.8 463.4,376.6 463.5,376.5 463.6,376.4 463.7,376.3 463.8,376.2 463.9,376.1 464.0,376.0 464.1,376.0 464.2,375.9 464.3,375.9 464.4,375.9 464.5,375.8 464.9,375.7 465.2,375.7 465.6,375.6 465.9,375.6 466.3,375.6 466.6,375.5 467.0,375.5 467.3,375.5 467.7,375.5 468.0,375.5 468.4,375.5 468.8,375.5 469.1,375.5 469.5,375.5 469.8,375.5 470.2,375.5 470.5,375.5 470.9,375.5 471.2,375.5 471.6,375.5 471.9,375.5 472.3,375.6 472.6,375.6 473.0,375.6 474.7,375.6 476.5,375.7 478.2,375.7 480.0,375.8 481.7,375.8 483.5,375.8 485.2,375.9 487.0,375.9 488.7,375.9 490.5,376.0 492.3,376.0 494.0,376.0 495.8,376.1 497.4,376.1 497.5,377.3 497.6,378.9 497.7,380.0 497.8,380.9 497.9,381.6 498.0,382.1 498.1,382.5 498.3,382.9 498.4,383.1 498.5,383.3 498.6,383.5 498.7,383.6 498.8,383.7 498.9,383.8 499.0,383.9 499.1,384.0 499.2,384.1 499.3,384.1 499.4,384.2 499.5,384.2 499.6,384.3 500.0,384.4 500.3,384.5 500.7,384.6 501.0,384.7 501.4,384.8 501.7,384.8 502.1,384.9 502.4,384.9 502.8,385.0 503.1,385.0 503.5,385.0 503.8,385.1 504.2,385.1 504.5,385.1 504.9,385.2 505.2,385.2 505.6,385.2 505.9,385.2 506.3,385.3 506.6,385.3 507.0,385.3 507.3,385.3 507.7,385.3 508.0,385.3 509.8,385.4 511.6,385.5 513.3,385.6 515.1,385.6 516.8,385.7 518.6,385.7 520.3,385.7 522.1,385.8 523.8,385.8 525.6,385.8 527.3,385.8 529.1,385.9 530.8,385.9 532.5,385.9 532.5,386.1 530.8,386.1 529.1,386.2 527.3,386.2 525.6,386.2 523.8,386.2 522.1,386.3 520.3,386.3 518.6,386.3 516.8,386.4 515.1,386.4 513.3,386.5 511.6,386.5 509.8,386.6 508.0,386.7 507.7,386.7 507.3,386.7 507.0,386.7 506.6,386.7 506.3,386.8 505.9,386.8 505.6,386.8 505.2,386.8 504.9,386.8 504.5,386.8 504.2,386.8 503.8,386.9 503.5,386.9 503.1,386.9 502.8,386.9 502.4,386.9 502.1,386.9 501.7,386.9 501.4,386.9 501.0,386.9 500.7,386.8 500.3,386.8 500.0,386.8 499.6,386.7 499.5,386.7 499.4,386.6 499.3,386.6 499.2,386.5 499.1,386.5 499.0,386.4 498.9,386.4 498.8,386.3 498.7,386.2 498.6,386.1 498.5,385.9 498.4,385.8 498.3,385.5 498.1,385.2 498.0,384.8 497.9,384.3 497.8,383.7 497.7,382.8 497.6,381.7 497.5,380.1 497.4,377.4 495.8,377.5 494.0,377.5 492.3,377.5 490.5,377.6 488.7,377.6 487.0,377.6 485.2,377.7 483.5,377.7 481.7,377.7 480.0,377.8 478.2,377.8 476.5,377.9 474.7,377.9 473.0,378.0 472.6,378.0 472.3,378.0 471.9,378.0 471.6,378.0 471.2,378.0 470.9,378.0 470.5,378.1 470.2,378.1 469.8,378.1 469.5,378.1 469.1,378.1 468.8,378.1 468.4,378.2 468.0,378.2 467.7,378.2 467.3,378.2 467.0,378.3 466.6,378.3 466.3,378.4 465.9,378.4 465.6,378.5 465.2,378.6 464.9,378.6 464.5,378.8 464.4,378.8 464.3,378.8 464.2,378.9 464.1,378.9 464.0,379.0 463.9,379.1 463.8,379.2 463.7,379.2 463.6,379.4 463.5,379.5 463.4,379.6 463.3,379.8 463.2,380.1 463.1,380.4 463.0,380.8 462.9,381.3 462.8,382.0 462.6,382.8 462.5,384.0 462.4,385.5 462.3,386.3 460.7,386.3 458.9,386.4 457.2,386.4 455.4,386.4 453.7,386.4 451.9,386.5 450.2,386.5 448.4,386.5 446.6,386.6 444.9,386.6 443.1,386.7 441.4,386.7 439.6,386.8 437.9,386.8 437.5,386.8 437.2,386.8 436.8,386.8 436.5,386.9 436.1,386.9 435.8,386.9 435.4,386.9 435.1,386.9 434.7,386.9 434.4,386.9 434.0,387.0 433.7,387.0 433.3,387.0 433.0,387.0 432.6,387.1 432.3,387.1 431.9,387.1 431.6,387.2 431.2,387.2 430.9,387.3 430.5,387.3 430.2,387.4 429.8,387.5 429.5,387.6 429.4,387.7 429.2,387.7 429.1,387.8 429.0,387.8 428.9,387.9 428.8,387.9 428.7,388.0 428.6,388.1 428.5,388.2 428.4,388.4 428.3,388.5 428.2,388.7 428.1,389.0 428.0,389.3 427.9,389.7 427.8,390.2 427.7,390.9 427.6,391.7 427.5,392.9 427.4,394.4 427.2,395.6 425.5,395.6 423.7,395.6 422.0,395.7 420.2,395.7 418.5,395.7 416.7,395.8 415.0,395.8 413.2,395.9 411.5,395.9 409.7,395.9 408.0,396.0 406.2,396.0 404.4,396.1 402.7,396.1 402.3,396.1 402.0,396.2 401.6,396.2 401.3,396.2 400.9,396.2 400.6,396.2 400.2,396.2 399.9,396.2 399.5,396.2 399.2,396.2 398.8,396.2 398.5,396.2 398.1,396.2 397.8,396.2 397.4,396.2 397.1,396.2 396.7,396.2 396.4,396.2 396.0,396.2 395.7,396.1 395.3,396.1 395.0,396.0 394.6,396.0 394.3,395.9 394.2,395.8 394.1,395.8 394.0,395.8 393.9,395.7 393.7,395.6 393.6,395.6 393.5,395.5 393.4,395.4 393.3,395.3 393.2,395.1 393.1,394.9 393.0,394.7 392.9,394.4 392.8,394.0 392.7,393.5 392.6,392.8 392.5,392.0 392.4,390.8 392.3,389.3 392.2,387.3"/>
</g>
<rect x="322.00" y="252.50" width="210.50" height="158.70" fill="none" stroke="#262626" stroke-width="1.2"/>
<line x1="322.10" y1="253.50" x2="322.10" y2="410.70" stroke="#7c7c7c" stroke-width="1.4"/>
<text class="tk" x="321.60" y="430.30" text-anchor="middle">0</text>
<line x1="392.17" y1="411.20" x2="392.17" y2="409.00" stroke="#262626" stroke-width="1"/>
<line x1="392.17" y1="252.50" x2="392.17" y2="254.70" stroke="#262626" stroke-width="1"/>
<text class="tk" x="391.77" y="430.30" text-anchor="middle">20</text>
<line x1="462.33" y1="411.20" x2="462.33" y2="409.00" stroke="#262626" stroke-width="1"/>
<line x1="462.33" y1="252.50" x2="462.33" y2="254.70" stroke="#262626" stroke-width="1"/>
<text class="tk" x="461.93" y="430.30" text-anchor="middle">40</text>
<text class="tk" x="532.10" y="430.30" text-anchor="middle">60</text>
<line x1="322.00" y1="385.50" x2="324.20" y2="385.50" stroke="#262626" stroke-width="1"/>
<line x1="532.50" y1="385.50" x2="530.30" y2="385.50" stroke="#262626" stroke-width="1"/>
<text class="tk" x="317.00" y="390.70" text-anchor="end">0</text>
<line x1="322.00" y1="321.30" x2="324.20" y2="321.30" stroke="#262626" stroke-width="1"/>
<line x1="532.50" y1="321.30" x2="530.30" y2="321.30" stroke="#262626" stroke-width="1"/>
<text class="tk" x="317.00" y="326.50" text-anchor="end">5</text>
<line x1="322.00" y1="257.10" x2="324.20" y2="257.10" stroke="#262626" stroke-width="1"/>
<line x1="532.50" y1="257.10" x2="530.30" y2="257.10" stroke="#262626" stroke-width="1"/>
<text class="tk" x="317.00" y="262.30" text-anchor="end">10</text>
<text class="ttl" x="427.45" y="244.10" text-anchor="middle">(d)</text>
<text class="lab" x="379.95" y="446.10" textLength="32.4" lengthAdjust="spacingAndGlyphs">Time</text>
<text class="lab" x="418.65" y="446.10" textLength="55.2" lengthAdjust="spacingAndGlyphs">[seconds]</text>
<g transform="translate(294.70,332.55) rotate(-90)"><text class="lab it" x="-45.00" y="0">e</text><text class="lab" x="-35.50" y="0">=</text><text class="lab it" x="-21.20" y="0">f</text><text class="lab it subl" x="-13.40" y="2.6">d</text><text class="lab" x="-1.30" y="0" textLength="10" lengthAdjust="spacingAndGlyphs">−</text><text class="lab it" x="14.50" y="0">f</text><text class="lab br" x="27.70" y="0.2" textLength="4" lengthAdjust="spacingAndGlyphs">[</text><text class="lab" x="32.10" y="0" textLength="9.7" lengthAdjust="spacingAndGlyphs">N</text><text class="lab br" x="42.40" y="0.2" textLength="4" lengthAdjust="spacingAndGlyphs">]</text></g>
<rect x="422.90" y="261.50" width="100.70" height="24.35" fill="#fff" stroke="#262626" stroke-width="1.25"/>
<line x1="426.90" y1="273.68" x2="471.30" y2="273.68" stroke="#808080" stroke-width="1.1"/>
<text class="leg" x="476.10" y="277.50" textLength="29.4" lengthAdjust="spacingAndGlyphs">3.45</text>
<text class="leg it kk" x="505.90" y="277.50" textLength="13.6" lengthAdjust="spacingAndGlyphs">K</text>
</svg>
</body></html>
